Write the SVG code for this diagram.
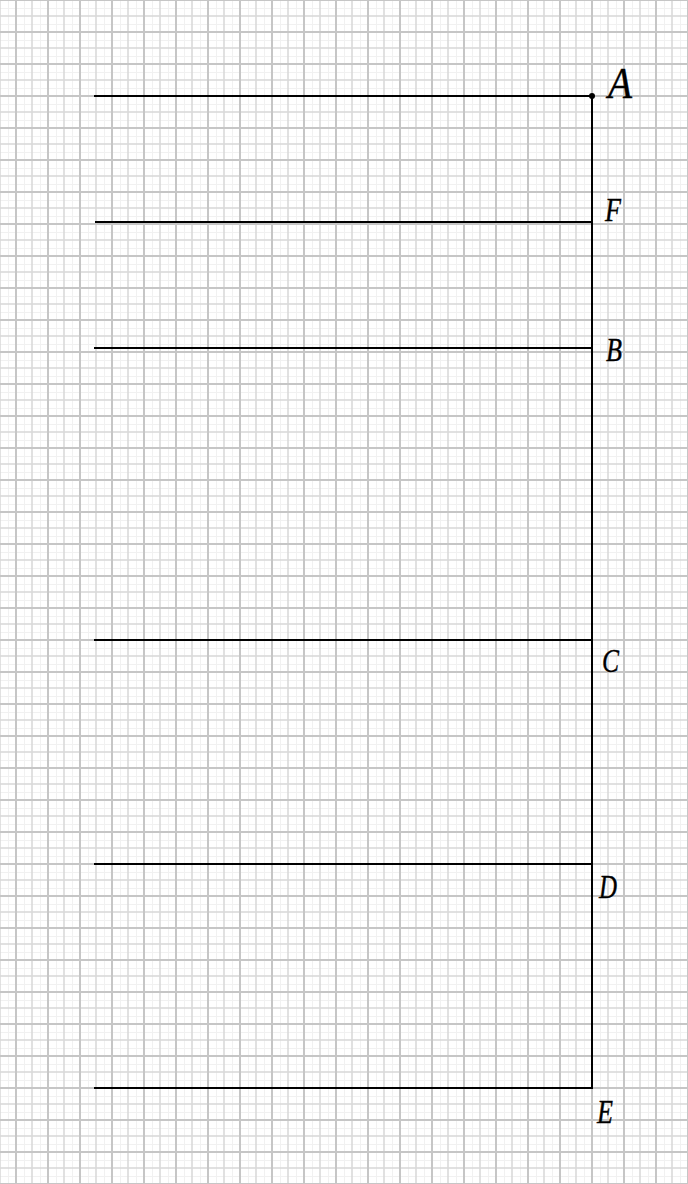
<svg xmlns="http://www.w3.org/2000/svg" width="688" height="1184" viewBox="0 0 688 1184">
  <style>
    .ln { stroke: #000; stroke-width: 2; fill: none; }
    .lbl { font-family: "Liberation Serif", "Times New Roman", serif; font-style: italic; fill: #000; stroke: #000; stroke-width: 0.4; }
  </style>
  <defs>
    <pattern id="grid" x="4" y="4" width="32" height="32" patternUnits="userSpaceOnUse">
      <rect x="0" y="0" width="32" height="32" fill="#ffffff"/>
      <g stroke="#f1f1f1" stroke-width="1">
        <line x1="4.5" y1="0" x2="4.5" y2="32"/>
        <line x1="20.5" y1="0" x2="20.5" y2="32"/>
        <line x1="0" y1="4.5" x2="32" y2="4.5"/>
        <line x1="0" y1="20.5" x2="32" y2="20.5"/>
      </g>
      <g stroke="#dadada" stroke-width="1.6">
        <line x1="28" y1="0" x2="28" y2="32"/>
        <line x1="0" y1="12" x2="32" y2="12"/>
      </g>
      <g stroke="#c6c6c6" stroke-width="2">
        <line x1="12" y1="0" x2="12" y2="32"/>
        <line x1="0" y1="28" x2="32" y2="28"/>
      </g>
    </pattern>
  </defs>
  <rect x="0" y="0" width="688" height="1184" fill="url(#grid)"/>
  <g id="connectors">
    <line class="ln" x1="94" y1="96" x2="592" y2="96"/>
    <line class="ln" x1="95" y1="222" x2="592" y2="222"/>
    <line class="ln" x1="94" y1="348" x2="592" y2="348"/>
    <line class="ln" x1="94" y1="640" x2="592" y2="640"/>
    <line class="ln" x1="94" y1="864" x2="592" y2="864"/>
    <line class="ln" x1="94" y1="1088" x2="592" y2="1088"/>
    <line class="ln" x1="592" y1="95" x2="592" y2="1089"/>
  </g>
  <g id="A">
    <circle cx="592" cy="96" r="3" fill="#000"/>
    <text class="lbl" x="608" y="98" font-size="44" textLength="24" lengthAdjust="spacingAndGlyphs">A</text>
  </g>
  <g id="F">
    <text class="lbl" x="605" y="221" font-size="33" textLength="16" lengthAdjust="spacingAndGlyphs">F</text>
  </g>
  <g id="B">
    <text class="lbl" x="606" y="361" font-size="33" textLength="16" lengthAdjust="spacingAndGlyphs">B</text>
  </g>
  <g id="C">
    <text class="lbl" x="602" y="672" font-size="33" textLength="17" lengthAdjust="spacingAndGlyphs">C</text>
  </g>
  <g id="D">
    <text class="lbl" x="599" y="898" font-size="33" textLength="18" lengthAdjust="spacingAndGlyphs">D</text>
  </g>
  <g id="E">
    <text class="lbl" x="597" y="1123" font-size="33" textLength="16" lengthAdjust="spacingAndGlyphs">E</text>
  </g>
</svg>
